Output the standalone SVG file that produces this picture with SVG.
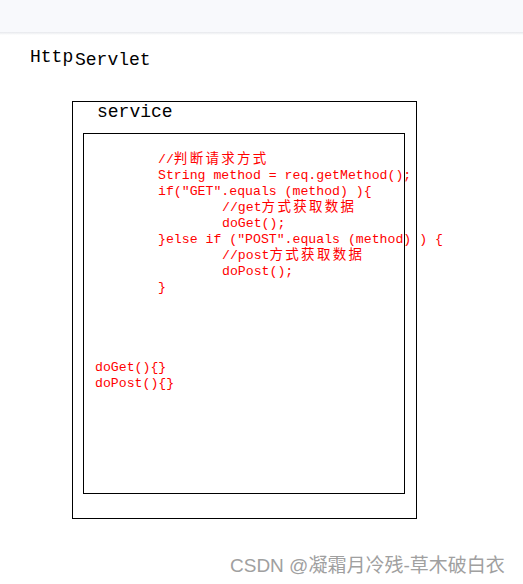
<svg xmlns="http://www.w3.org/2000/svg" width="523" height="584" viewBox="0 0 523 584">
<defs>
<linearGradient id="sh" x1="0" y1="0" x2="0" y2="1"><stop offset="0" stop-color="#e6e8ec"/><stop offset="1" stop-color="#ffffff"/></linearGradient>
</defs>
<style>
.mono{font-family:"Liberation Mono","DejaVu Sans Mono",monospace;}
.title{font-size:18px;fill:#000;}
.code{font-size:13.2px;fill:#ff0000;}
.cjk{font-family:"Noto Sans CJK SC",sans-serif;font-size:13.5px;letter-spacing:2.3px;}
.box{fill:none;stroke:#000;stroke-width:1;}
.wm{font-family:"Liberation Sans","Noto Sans CJK SC",sans-serif;font-size:19px;fill:#a0a0a0;}
</style>
<rect x="0" y="0" width="523" height="584" fill="#ffffff"/>
<rect x="0" y="0" width="523" height="32" fill="#f8f9fc"/>
<rect x="0" y="32" width="523" height="3" fill="url(#sh)"/>
<g id="httpservlet">
<text class="mono title" x="30" y="62">Http</text>
<text class="mono title" x="75" y="65">Servlet</text>
</g>
<g id="service">
<rect class="box" x="72.5" y="101.5" width="344" height="417"/>
<text class="mono title" x="97" y="117">service</text>
</g>
<g id="service-body">
<rect class="box" x="83.5" y="133.5" width="321" height="360"/>
<g class="mono code">
<text x="158" y="163">//<tspan class="cjk">判断请求方式</tspan></text>
<text x="158" y="179">String method = req.getMethod();</text>
<text x="158" y="195">if("GET".equals (method) ){</text>
<text x="222" y="211">//get<tspan class="cjk">方式获取数据</tspan></text>
<text x="222" y="227">doGet();</text>
<text x="158" y="243">}else if ("POST".equals (method) ) {</text>
<text x="222" y="259">//post<tspan class="cjk">方式获取数据</tspan></text>
<text x="222" y="275">doPost();</text>
<text x="158" y="291">}</text>
<text x="95" y="371">doGet(){}</text>
<text x="95" y="387">doPost(){}</text>
</g>
</g>
<g id="connectors"></g>
<text class="wm" x="230" y="572">CSDN @凝霜月冷残-草木破白衣</text>
</svg>
